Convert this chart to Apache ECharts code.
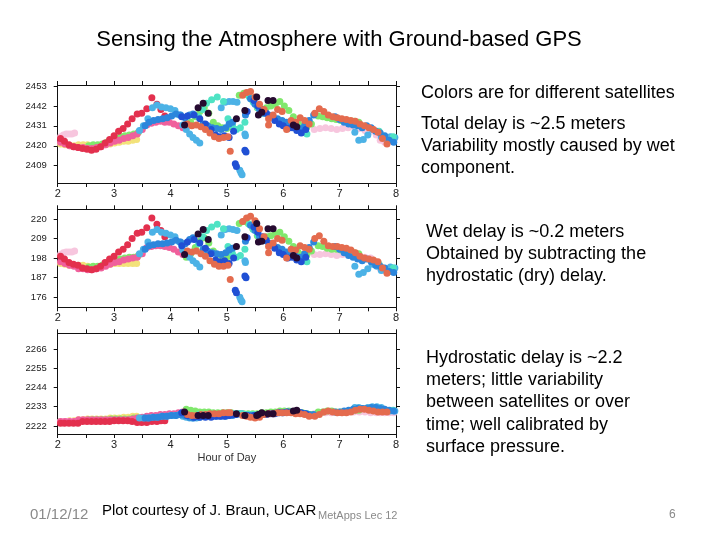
<!DOCTYPE html>
<html>
<head>
<meta charset="utf-8">
<script src="https://cdn.jsdelivr.net/npm/echarts@6/dist/echarts.min.js"></script>
<style>
  html, body { margin: 0; padding: 0; background: #fff; }
  #chart { width: 720px; height: 540px; }
</style>
</head>
<body>
<div id="chart"></div>
<script>
// tick labels
const dayTicks = [2, 3, 4, 5, 6, 7, 8];
const totalTicks = [2409, 2420, 2431, 2442, 2453];
const wetTicks = [176, 187, 198, 209, 220];
const hydroTicks = [2222, 2233, 2244, 2255, 2266];

// one block per satellite: day, total delay, wet delay, hydrostatic delay (mm)
const yellowT = [2.05, 2.13, 2.21, 2.29, 2.37, 2.45, 2.53, 2.61, 2.69, 2.77, 2.85, 2.93, 3.01, 3.09, 3.17, 3.25, 3.33, 3.4];
const yellowTotal = [2421, 2420.5, 2420, 2420, 2420.5, 2420.5, 2420.5, 2420, 2420, 2420, 2420.5, 2421, 2421.5, 2422, 2422.5, 2422.5, 2423, 2423.5];
const yellowWet = [195, 194.5, 194, 194, 194, 194, 193.5, 193, 193, 193.5, 194, 194.5, 195, 195, 195, 195, 195, 195];
const yellowHydro = [2224.5, 2224.5, 2225, 2225, 2225.5, 2225.5, 2226, 2226, 2226, 2226, 2226, 2226.5, 2226.5, 2226.5, 2227, 2227, 2227.5, 2227.5];

const lightPinkT = [2.05, 2.1, 2.15, 2.2, 2.25, 2.3, 6.55, 6.65, 6.75, 6.85, 6.95, 7.05, 7.15, 7.25, 7.35, 7.45, 7.55, 7.65, 7.72, 7.8, 7.88, 7.96];
const lightPinkTotal = [2425, 2426, 2426.5, 2426.5, 2426.5, 2427, 2429, 2429.5, 2430, 2429.5, 2429, 2429.5, 2430, 2430.5, 2429.5, 2428.5, 2428, 2426, 2423, 2422, 2422.5, 2423];
const lightPinkWet = [200, 201, 201.5, 201.5, 201.5, 202, 200, 200, 200.5, 200, 199.5, 200, 200, 200.5, 199.5, 198.5, 198, 196, 192, 191, 191.5, 192];
const lightPinkHydro = [2224.5, 2224.5, 2224.5, 2224.5, 2224.5, 2224.5, 2229, 2229.5, 2229.5, 2229.5, 2229.5, 2229.5, 2230, 2230, 2230, 2230, 2229.5, 2229.5, 2229.5, 2229.5, 2229.5, 2229.5];

const greenT = [2.55, 2.63, 2.71, 2.79, 2.87, 2.95, 3.03, 3.11, 3.19, 3.27, 3.35, 3.43,
  4.28, 4.36, 4.44, 4.52, 4.6, 4.68, 4.76, 4.84, 4.92, 5.0, 5.08,
  5.22, 5.3, 5.38, 5.46, 5.54, 5.62, 5.7, 5.78, 5.86, 5.94, 6.02, 6.1, 6.18, 6.26, 6.34, 6.42, 6.5,
  6.62, 6.7, 6.78, 6.86, 6.94, 7.02, 7.1, 7.18, 7.26, 7.34];
const greenTotal = [2420, 2420.5, 2420.5, 2421, 2422, 2423, 2424, 2425, 2425.5, 2426, 2426.5, 2427.5,
  2431.5, 2433, 2436, 2439, 2441, 2438, 2433, 2431, 2430, 2429.5, 2430.5,
  2448, 2449, 2448, 2445, 2441, 2440, 2441, 2442, 2443, 2444.5, 2442, 2439.5, 2436, 2433, 2431, 2430.5, 2432,
  2436.5, 2436, 2435.5, 2435, 2434.5, 2434, 2434, 2433.5, 2433.5, 2433];
const greenWet = [193, 193.5, 193.5, 194, 195, 195.5, 196.5, 197.5, 198, 198.5, 198.5, 199.5,
  198.5, 200.5, 204, 207.5, 209.5, 206.5, 202, 200, 199, 198.5, 199.5,
  217.5, 218.5, 217.5, 214.5, 210.5, 209, 210, 210.5, 211.5, 212.5, 210, 207.5, 204.5, 201.5, 200, 200, 202,
  205, 204.5, 203.5, 203, 203, 202.5, 202.5, 201.5, 201, 200.5];
const greenHydro = [2225.5, 2225.5, 2225.5, 2225.5, 2225.5, 2226, 2226, 2226, 2226, 2226, 2226.5, 2226.5,
  2231.5, 2231, 2230.5, 2230, 2230, 2230, 2229.5, 2229.5, 2229.5, 2229.5, 2229.5,
  2229, 2229, 2229, 2229, 2229, 2229.5, 2229.5, 2230, 2230, 2230.5, 2230.5, 2230.5, 2230, 2230, 2229.5, 2229, 2228.5,
  2230, 2230, 2230.5, 2230.5, 2230, 2230, 2230, 2230.5, 2231, 2231];

const hotPinkT = [2.05, 2.13, 2.21, 2.29, 2.37, 2.45, 2.53, 2.61, 2.69, 2.77, 2.85, 2.93, 3.01, 3.09, 3.17, 3.25, 3.33, 3.41, 3.5, 3.58, 3.66, 3.74, 3.82, 3.9, 3.98, 4.06, 4.14, 4.22];
const hotPinkTotal = [2422, 2421, 2420, 2419.5, 2419, 2419, 2418.5, 2418.5, 2419, 2419.5, 2420.5, 2421.5, 2422.5, 2423, 2424, 2424.5, 2425.5, 2426.5, 2429, 2431.5, 2432.5, 2433, 2433.5, 2433, 2433, 2432, 2431, 2430];
const hotPinkWet = [196, 195, 194, 193.5, 192, 192, 191.5, 191.5, 192, 192.5, 193.5, 194.5, 195.5, 196, 197, 197.5, 198, 198.5, 200.5, 204, 204.5, 205, 205, 204.5, 204, 203, 201.5, 200];
const hotPinkHydro = [2224.5, 2224.5, 2224.5, 2224.5, 2225.5, 2225.5, 2225.5, 2225.5, 2225.5, 2225.5, 2225.5, 2225.5, 2225.5, 2225.5, 2225.5, 2225.5, 2226, 2226.5, 2227, 2227.5, 2228, 2228, 2228.5, 2228.5, 2229, 2229, 2229.5, 2230];

const crimsonT = [2.05, 2.12, 2.2, 2.28, 2.36, 2.44, 2.52, 2.6, 2.68, 2.76, 2.84, 2.92, 3.0, 3.08, 3.16, 3.24, 3.32, 3.41, 3.49, 3.58, 3.67, 3.76, 3.83, 3.9];
const crimsonTotal = [2424, 2422.5, 2420.5, 2419.5, 2419, 2418.5, 2418, 2417.5, 2418, 2419.5, 2421.5, 2423.5, 2425.5, 2428, 2429.5, 2432, 2435, 2437.5, 2438, 2440.5, 2446.5, 2443, 2440, 2436.5];
const crimsonWet = [199, 197.5, 195.5, 194.5, 194, 192.5, 192, 191.5, 192, 193.5, 195.5, 197.5, 199, 201.5, 203, 205.5, 209, 212, 212.5, 215, 220.5, 217, 213.5, 210];
const crimsonHydro = [2223.5, 2223.5, 2223.5, 2223.5, 2223.5, 2224.5, 2224.5, 2224.5, 2224.5, 2224.5, 2224.5, 2224.5, 2225, 2225, 2225, 2225, 2224.5, 2224, 2224, 2224, 2224.5, 2224.5, 2225, 2225];

const skyT = [3.45, 3.52, 3.6, 3.68, 3.76, 3.84, 3.92, 4.0, 4.08, 4.16, 4.22, 4.28, 4.34, 4.4, 4.46, 4.52,
  4.9, 4.97, 5.04, 5.11, 5.18,
  5.23, 5.25, 5.27, 5.32, 5.33,
  7.27, 7.34, 7.42, 7.5, 7.58, 7.66, 7.74, 7.82, 7.9, 7.98];
const skyTotal = [2428.5, 2431, 2435, 2441, 2442.5, 2441.5, 2441, 2440.5, 2439.5, 2437, 2431.5, 2429, 2426.5, 2424.5, 2423, 2421.5,
  2441, 2444, 2444.5, 2444.5, 2444,
  2406.5, 2405, 2404, 2426.5, 2425.5,
  2427.5, 2423, 2423.5, 2426, 2429, 2428, 2425, 2424, 2425, 2424.5];
const skyWet = [200.5, 203, 207, 212.5, 214, 212.5, 212, 211, 210, 207, 202.5, 200.5, 198.5, 196.5, 195, 193,
  211, 214, 214.5, 214, 213.5,
  176, 174.5, 173.5, 196.5, 195.5,
  193.5, 189, 190, 192, 194.5, 193.5, 191, 191.5, 193, 192.5];
const skyHydro = [2226.5, 2226.5, 2226.5, 2227, 2227, 2227.5, 2227.5, 2228, 2228, 2228.5, 2227.5, 2227, 2226.5, 2226.5, 2226.5, 2227,
  2228.5, 2228.5, 2228.5, 2229, 2229,
  2229, 2229, 2229, 2228.5, 2228.5,
  2232.5, 2232.5, 2232, 2232.5, 2233, 2233, 2232.5, 2231, 2230.5, 2230.5];

const cyanT = [4.5, 4.57, 4.64, 4.73, 4.83, 4.94, 5.02, 5.1, 5.17, 5.24, 5.32, 5.4, 5.47, 5.55, 5.63, 6.38, 6.42, 7.7, 7.95];
const cyanTotal = [2436, 2440, 2443.5, 2445.5, 2447, 2444.5, 2435, 2431, 2429, 2430, 2433, 2447, 2444, 2441, 2438, 2428, 2426.5, 2428, 2425];
const cyanWet = [206, 210, 213.5, 215.5, 217, 214.5, 204.5, 200.5, 198.5, 199.5, 203, 217, 214, 211, 208, 197.5, 196, 194.5, 192.5];
const cyanHydro = [2228.5, 2228.5, 2228.5, 2228.5, 2228.5, 2228.5, 2229, 2229, 2229, 2229, 2228.5, 2228.5, 2228.5, 2228.5, 2228.5, 2229, 2229, 2232, 2231];

const blueT = [3.55, 3.62, 3.7, 3.78, 3.86, 3.94, 4.02, 4.1, 4.18, 4.26, 4.34, 4.4,
  4.58, 4.66, 4.74, 4.82, 4.9, 4.98, 5.04, 5.1,
  5.33, 5.42, 5.5, 5.58, 5.66, 5.74, 5.82, 5.9, 5.98, 6.06, 6.14, 6.22, 6.3, 6.38, 6.46, 6.54,
  6.92, 7.0, 7.08, 7.16, 7.24, 7.32, 7.4, 7.48, 7.56, 7.64, 7.72, 7.8, 7.88, 7.96];
const blueTotal = [2431, 2433, 2434, 2434.5, 2435, 2435.5, 2436.5, 2437.5, 2437, 2435.5, 2437, 2437.5,
  2432, 2431, 2430, 2429.5, 2429, 2430, 2432, 2433,
  2437, 2446, 2443, 2440, 2438, 2437, 2436, 2435, 2434, 2433, 2432, 2430.5, 2429.5, 2431, 2434, 2437,
  2436, 2434.5, 2433, 2432, 2431.5, 2431, 2430, 2431, 2430, 2428, 2427, 2425.5, 2423, 2422];
const blueWet = [203, 205, 205.5, 206, 206, 206.5, 207, 208, 207, 206, 208.5, 209.5,
  203, 202, 201, 200.5, 200, 201, 202.5, 203.5,
  207.5, 216.5, 213.5, 210, 208, 206.5, 205.5, 204, 203, 201.5, 200.5, 199, 198.5, 200.5, 204, 207,
  204.5, 203, 201, 199.5, 198.5, 197.5, 196.5, 197.5, 196, 194, 193.5, 192.5, 190.5, 190];
const blueHydro = [2226.5, 2226.5, 2227, 2227, 2227.5, 2227.5, 2228, 2228, 2228.5, 2228, 2227, 2226.5,
  2227.5, 2227.5, 2227.5, 2227.5, 2227.5, 2227.5, 2228, 2228,
  2228, 2228, 2228, 2228.5, 2228.5, 2229, 2229, 2229.5, 2229.5, 2230, 2230, 2230, 2229.5, 2229, 2228.5, 2228.5,
  2230, 2230, 2230.5, 2231, 2231.5, 2232, 2232, 2232, 2232.5, 2232.5, 2232, 2231.5, 2231, 2230.5];

const royalT = [4.2, 4.3, 4.42, 4.52, 4.62, 4.72, 4.8, 4.88, 4.96, 5.04, 5.12, 5.15, 5.17, 5.32, 5.34, 5.36, 5.48, 5.55, 5.63, 5.7, 5.78, 5.85, 5.93, 6.0, 6.08, 6.16, 6.24, 6.32, 6.4];
const royalTotal = [2436, 2436.5, 2437, 2435, 2432, 2429, 2426, 2425, 2425.5, 2424.5, 2428, 2410, 2408.5, 2417.5, 2416.5, 2439, 2445, 2442, 2440, 2438, 2436, 2434, 2432, 2431, 2429.5, 2430, 2428.5, 2427, 2429];
const royalWet = [205, 207, 208.5, 206.5, 203.5, 200.5, 197, 196, 196.5, 195, 198, 180, 178.5, 188, 187, 209.5, 215.5, 212.5, 210, 208, 205.5, 203.5, 201, 200, 198, 198.5, 197, 196, 198.5];
const royalHydro = [2229.5, 2228, 2227, 2227, 2227, 2227, 2227.5, 2227.5, 2227.5, 2228, 2228.5, 2228.5, 2228.5, 2228, 2228, 2228, 2228, 2228, 2228.5, 2228.5, 2229, 2229, 2229.5, 2229.5, 2230, 2230, 2230, 2229.5, 2229];

const salmonT = [4.3, 4.38, 4.46, 4.54, 4.62, 4.7, 4.78, 4.86, 4.94, 5.02, 5.06,
  5.28, 5.35, 5.42, 5.5, 5.58, 5.66, 5.74, 5.74, 5.82, 5.9, 5.98, 6.06, 6.14, 6.22, 6.3, 6.38, 6.46,
  6.56, 6.64, 6.72, 6.8, 6.88, 6.96, 7.04, 7.12, 7.2, 7.28, 7.36, 7.44, 7.52, 7.6, 7.68, 7.76, 7.84];
const salmonTotal = [2432, 2431, 2431.5, 2430.5, 2429, 2427, 2425, 2424, 2424.5, 2425, 2417,
  2448, 2449.5, 2450, 2447, 2443, 2440, 2435, 2431.5, 2437, 2440, 2439, 2429, 2434, 2433, 2435.5, 2434, 2432,
  2438, 2440.5, 2439, 2437, 2436, 2435.5, 2435, 2434.5, 2434, 2433.5, 2432, 2431, 2430, 2429, 2427.5, 2424, 2421];
const salmonWet = [202, 201.5, 202, 200.5, 199, 196.5, 194.5, 193.5, 193.5, 194, 186,
  218.5, 220.5, 221.5, 219, 214.5, 210, 204.5, 201, 206.5, 209, 208, 198, 203, 202.5, 205, 204, 203,
  209, 210.5, 207.5, 205, 204.5, 204.5, 204, 203.5, 202.5, 201, 199, 198, 197.5, 197, 196, 192.5, 189.5];
const salmonHydro = [2228.5, 2228, 2228, 2228.5, 2228.5, 2229, 2229, 2229, 2229.5, 2229.5, 2229.5,
  2228, 2227.5, 2227, 2226.5, 2227, 2228.5, 2229, 2229, 2229, 2229.5, 2229.5, 2229.5, 2229.5, 2229, 2229, 2228.5, 2227.5,
  2227.5, 2228.5, 2230, 2230.5, 2230, 2229.5, 2229.5, 2229.5, 2230, 2231, 2231.5, 2231.5, 2231, 2230.5, 2230, 2230, 2230];

const navyT = [4.25, 4.49, 4.58, 4.67, 5.17, 5.32, 5.53, 5.56, 5.62, 5.73, 5.82, 6.18, 6.24];
const navyTotal = [2431.5, 2441, 2443.5, 2438, 2435, 2439.5, 2447, 2437, 2438.5, 2445, 2445, 2431.5, 2430.5];
const navyWet = [200, 211.5, 214, 208.5, 204.5, 210, 217.5, 207, 207.5, 214.5, 214.5, 199.5, 198];
const navyHydro = [2230, 2228, 2228, 2228, 2229, 2228, 2228, 2228.5, 2229.5, 2229, 2229, 2230.5, 2231];

const satellites = [
  { color: '#f3e27a', t: yellowT, total: yellowTotal, wet: yellowWet, hydro: yellowHydro },
  { color: '#f7c6de', t: lightPinkT, total: lightPinkTotal, wet: lightPinkWet, hydro: lightPinkHydro },
  { color: '#80e86c', t: greenT, total: greenTotal, wet: greenWet, hydro: greenHydro },
  { color: '#f0609c', t: hotPinkT, total: hotPinkTotal, wet: hotPinkWet, hydro: hotPinkHydro },
  { color: '#e3304e', t: crimsonT, total: crimsonTotal, wet: crimsonWet, hydro: crimsonHydro },
  { color: '#4cb2e6', t: skyT, total: skyTotal, wet: skyWet, hydro: skyHydro },
  { color: '#4fe3c4', t: cyanT, total: cyanTotal, wet: cyanWet, hydro: cyanHydro },
  { color: '#2c86dc', t: blueT, total: blueTotal, wet: blueWet, hydro: blueHydro },
  { color: '#2050d4', t: royalT, total: royalTotal, wet: royalWet, hydro: royalHydro },
  { color: '#e46b4e', t: salmonT, total: salmonTotal, wet: salmonWet, hydro: salmonHydro },
  { color: '#260a30', t: navyT, total: navyTotal, wet: navyWet, hydro: navyHydro },
];

// three stacked panels
const panels = [
  { key: 'total', top: 85, height: 98, min: 2399.4, max: 2453.6, ticks: totalTicks },
  { key: 'wet', top: 209.3, height: 98, min: 170.4, max: 225.4, ticks: wetTicks },
  { key: 'hydro', top: 333.3, height: 100.7, min: 2217.4, max: 2275, ticks: hydroTicks },
];

const FONT = '"Liberation Sans", Arial, Helvetica, sans-serif';
const lineStyle = { color: '#111', width: 1 };

const grid = [];
const xAxis = [];
const yAxis = [];
const series = [];

panels.forEach((p, i) => {
  grid.push({ left: 57.7, width: 338.3, top: p.top, height: p.height, containLabel: false, outerBoundsMode: 'none' });
  ['bottom', 'top'].forEach((pos) => {
    xAxis.push({
      type: 'value', gridIndex: i, position: pos, min: 2, max: 8, interval: 0.5,
      axisLine: { show: true, onZero: false, lineStyle },
      axisTick: { show: true, inside: false, length: 4, lineStyle },
      axisLabel: {
        show: pos === 'bottom', margin: 5, fontSize: 11, color: '#222', fontFamily: FONT,
        formatter: (v) => (dayTicks.indexOf(v) >= 0 ? String(v) : ''),
      },
      splitLine: { show: false },
      name: pos === 'bottom' && i === 2 ? 'Hour of Day' : '',
      nameLocation: 'middle', nameGap: 18,
      nameTextStyle: { fontSize: 11, color: '#333', fontFamily: FONT },
    });
  });
  ['left', 'right'].forEach((pos) => {
    yAxis.push({
      type: 'value', gridIndex: i, position: pos, min: p.min, max: p.max,
      axisLine: { show: true, onZero: false, lineStyle },
      axisTick: { show: true, inside: false, length: 4, lineStyle, customValues: p.ticks },
      axisLabel: {
        show: pos === 'left', margin: 11, fontSize: 9.5, color: '#222', fontFamily: FONT,
        customValues: p.ticks,
        formatter: (v) => String(v),
      },
      splitLine: { show: false },
    });
  });
  satellites.forEach((s) => {
    series.push({
      type: 'scatter', xAxisIndex: i * 2, yAxisIndex: i * 2,
      data: s.t.map((d, k) => [d, s[p.key][k]]),
      symbol: 'circle', symbolSize: 7,
      itemStyle: { color: s.color, opacity: 1 },
      emphasis: { disabled: true },
      silent: true,
    });
  });
});

const text = (x, y, str, font, fill, extra) => ({
  type: 'text', x, y, silent: true,
  style: Object.assign({ text: str, font, fill, textAlign: 'left', align: 'left', textVerticalAlign: 'middle', verticalAlign: 'middle' }, extra || {}),
});

const body = '18px ' + FONT;
const block = { textVerticalAlign: 'top', verticalAlign: 'top', lineHeight: 22 };
const graphic = [
  text(339, 40, 'Sensing the Atmosphere with Ground-based GPS', '22px ' + FONT, '#000', { textAlign: 'center', align: 'center' }),
  text(421, 93, 'Colors are for different satellites', body, '#000'),
  text(421, 113, 'Total delay is ~2.5 meters\nVariability mostly caused by wet\ncomponent.', body, '#000', block),
  text(426, 221, 'Wet delay is ~0.2 meters\nObtained by subtracting the\nhydrostatic (dry) delay.', body, '#000', block),
  text(426, 347, 'Hydrostatic delay is ~2.2\nmeters; little variability\nbetween satellites or over\ntime; well calibrated by\nsurface pressure.', body, '#000',
    Object.assign({}, block, { lineHeight: 22.2 })),
  text(30, 515, '01/12/12', '15px ' + FONT, '#8a8a8a'),
  text(102, 511, 'Plot courtesy of J. Braun, UCAR', '15px ' + FONT, '#000'),
  text(318, 516, 'MetApps Lec 12', '11px ' + FONT, '#8a8a8a'),
  text(669, 515, '6', '12px ' + FONT, '#8a8a8a'),
];

const chart = echarts.init(document.getElementById('chart'));
chart.setOption({
  backgroundColor: '#fff',
  animation: false,
  textStyle: { fontFamily: FONT },
  grid, xAxis, yAxis, series, graphic,
});
</script>
</body>
</html>
